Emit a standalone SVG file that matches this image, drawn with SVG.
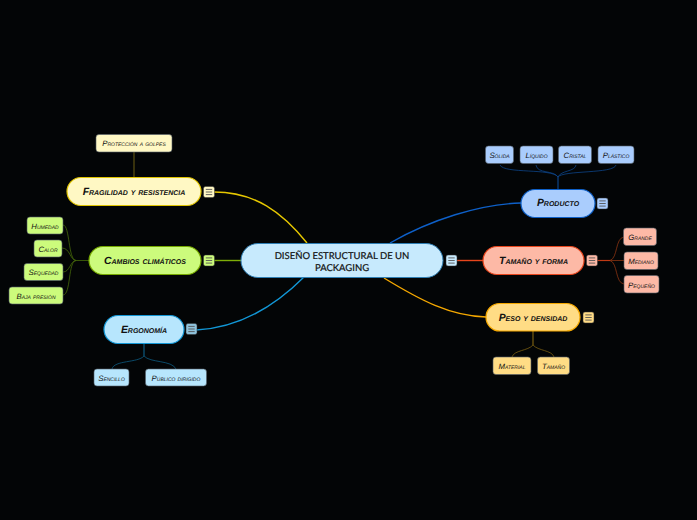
<svg xmlns="http://www.w3.org/2000/svg" width="697" height="520" viewBox="0 0 697 520">
<style>
text{font-family:"Liberation Sans",Arial,sans-serif;text-anchor:middle;fill:#111;text-rendering:geometricPrecision}
.m{font-size:10.400px;font-weight:bold;font-style:italic;font-variant:small-caps}
.s{font-size:7.800px;font-style:italic;font-variant:small-caps}
.c{font-family:Lato,"Liberation Sans",sans-serif;font-size:9.500px;stroke:#111;stroke-width:.2}
.l{fill:none}
.b{stroke-width:1.2}
.t{stroke:#56606a;stroke-width:.6}
</style>
<defs>
<g id="menu"><rect x="-5.5" y="-5.5" width="11" height="11" rx="2" stroke="#333" stroke-width=".5"/><path d="M-3.2-2.6H3.2M-3.2 0H3.2M-3.2 2.6H3.2" stroke="#555" stroke-width=".9" fill="none"/></g>
</defs>
<rect width="697" height="520" fill="#030506"/>
<g id="connectors" class="l">
<path d="M214 192C255 192 282 212 307 243" stroke="#e6c800" stroke-width="1.4"/>
<path d="M214 260.500H241" stroke="#7eae08" stroke-width="1.400"/>
<path d="M196 330C240 328 275 306 304 277" stroke="#1297d6" stroke-width="1.400"/>
<path d="M390 243C430 220 480 204 521 203" stroke="#0e60c8" stroke-width="1.400"/>
<path d="M456 260.500H483" stroke="#e8451c" stroke-width="1.400"/>
<path d="M384 278C420 300 450 316 486 317" stroke="#f5a800" stroke-width="1.400"/>
<path d="M134 177V152" stroke="#5c5012" stroke-width="1.200"/>
<g stroke="#466a0a" stroke-width=".8"><path d="M89 260.500H76"/><path d="M76 260.500C68 260 70 225 63 225"/><path d="M76 260.500C70 260 70 248 62 248"/><path d="M76 260.500C70 261 70 272 63 272"/><path d="M76 260.500C68 261 71 295 63 295"/></g>
<g stroke="#0c5a80" stroke-width=".8"><path d="M144 343V356" stroke-width="1.200"/><path d="M144 356C138 363 114 360 112 369"/><path d="M144 356C150 363 172 360 176 369"/></g>
<g stroke="#0c4488" stroke-width=".8"><path d="M558 189V177" stroke-width="1.200"/><path d="M558 177C552 168 504 174 500 165"/><path d="M558 177C554 170 537 174 536 165"/><path d="M558 177C561 170 575 172 576 165"/><path d="M558 177C563 170 614 174 616 165"/></g>
<g stroke="#8a3312" stroke-width=".8"><path d="M597 260.500H610" stroke="#c03a14" stroke-width="1.200"/><path d="M610 260.500C618 258 615 238 624 237"/><path d="M610 260.500H624"/><path d="M610 260.500C618 263 615 283 624 284"/></g>
<g stroke="#7a5e12" stroke-width=".8"><path d="M533 331V345" stroke-width="1.200"/><path d="M533 345C528 351 514 350 512 357"/><path d="M533 345C538 351 552 350 554 357"/></g>
</g>
<g id="n0"><rect x="241" y="243.500" width="202" height="34" rx="17" fill="#c7eafd" stroke="#2f7fb4" stroke-width="1"/><text class="c" x="342" y="258.500">DISEÑO ESTRUCTURAL DE UN</text><text class="c" x="342" y="270.500">PACKAGING</text><use href="#menu" x="451.500" y="260.500" fill="#c7eafd"/></g>
<g id="n1"><rect x="67" y="177.500" width="134" height="28" rx="14" fill="#fff8c4" stroke="#e0c400" class="b"/><text class="m" x="134" y="195">Fragilidad y resistencia</text><use href="#menu" x="209" y="192" fill="#fff8c4"/></g>
<g id="n1a"><rect x="96" y="134.500" width="76" height="17.500" rx="3" fill="#fff8c4" class="t"/><text class="s" x="134" y="146">Protección a golpes</text></g>
<g id="n2"><rect x="89" y="246.500" width="112" height="28" rx="14" fill="#ccfb7c" stroke="#76a800" class="b"/><text class="m" x="145" y="263.500">Cambios climáticos</text><use href="#menu" x="209" y="260.500" fill="#ccfb7c"/></g>
<g id="n2a"><rect x="27" y="217" width="36" height="17" rx="3" fill="#ccfb7c" class="t"/><text class="s" x="45" y="228.500">Humedad</text></g>
<g id="n2b"><rect x="34" y="240" width="28" height="17" rx="3" fill="#ccfb7c" class="t"/><text class="s" x="48" y="251.500">Calor</text></g>
<g id="n2c"><rect x="24" y="263.500" width="39" height="17" rx="3" fill="#ccfb7c" class="t"/><text class="s" x="43.500" y="275">Sequedad</text></g>
<g id="n2d"><rect x="9" y="287" width="54" height="17" rx="3" fill="#ccfb7c" class="t"/><text class="s" x="36" y="298.500">Baja presión</text></g>
<g id="n3"><rect x="104" y="315.500" width="80" height="28" rx="14" fill="#b7e6fd" stroke="#1297d6" class="b"/><text class="m" x="144" y="333">Ergonomía</text><use href="#menu" x="191.500" y="329" fill="#8fc3dc"/></g>
<g id="n3a"><rect x="94" y="369" width="35" height="17" rx="3" fill="#b7e6fd" class="t"/><text class="s" x="111.500" y="380.500">Sencillo</text></g>
<g id="n3b"><rect x="145.500" y="369" width="61" height="17" rx="3" fill="#b7e6fd" class="t"/><text class="s" x="176" y="380.500">Público dirigido</text></g>
<g id="n4"><rect x="521" y="189.500" width="74" height="28" rx="14" fill="#aacdfd" stroke="#0e60c8" class="b"/><text class="m" x="558" y="206">Producto</text><use href="#menu" x="602.500" y="203.500" fill="#aacdfd"/></g>
<g id="n4a"><rect x="485.500" y="146" width="28" height="17.500" rx="3" fill="#aacdfd" class="t"/><text class="s" x="499.500" y="158">Sólida</text></g>
<g id="n4b"><rect x="520" y="146" width="33" height="17.500" rx="3" fill="#aacdfd" class="t"/><text class="s" x="536.500" y="158">Líquido</text></g>
<g id="n4c"><rect x="558.500" y="146" width="33" height="17.500" rx="3" fill="#aacdfd" class="t"/><text class="s" x="575" y="158">Cristal</text></g>
<g id="n4d"><rect x="598" y="146" width="36" height="17.500" rx="3" fill="#aacdfd" class="t"/><text class="s" x="616" y="158">Plástico</text></g>
<g id="n5"><rect x="483" y="246.500" width="101" height="28" rx="14" fill="#fdb9a6" stroke="#e8451c" class="b"/><text class="m" x="533.500" y="263.500">Tamaño y forma</text><use href="#menu" x="592" y="260.500" fill="#fdb9a6"/></g>
<g id="n5a"><rect x="623.500" y="228" width="33" height="17.500" rx="3" fill="#fdb9a6" class="t"/><text class="s" x="640" y="240">Grande</text></g>
<g id="n5b"><rect x="624" y="252" width="34" height="17.500" rx="3" fill="#fdb9a6" class="t"/><text class="s" x="641" y="264">Mediano</text></g>
<g id="n5c"><rect x="624" y="275.500" width="35" height="17.500" rx="3" fill="#fdb9a6" class="t"/><text class="s" x="641.500" y="287.500">Pequeño</text></g>
<g id="n6"><rect x="486" y="303.500" width="94" height="27.500" rx="13.750" fill="#ffdc85" stroke="#f5a800" class="b"/><text class="m" x="533" y="320.500">Peso y densidad</text><use href="#menu" x="588.500" y="317.500" fill="#ffdc85"/></g>
<g id="n6a"><rect x="493" y="357" width="38" height="17.500" rx="3" fill="#ffdc85" class="t"/><text class="s" x="512" y="369">Material</text></g>
<g id="n6b"><rect x="537.500" y="357" width="32" height="17.500" rx="3" fill="#ffdc85" class="t"/><text class="s" x="553.500" y="369">Tamaño</text></g>
</svg>
